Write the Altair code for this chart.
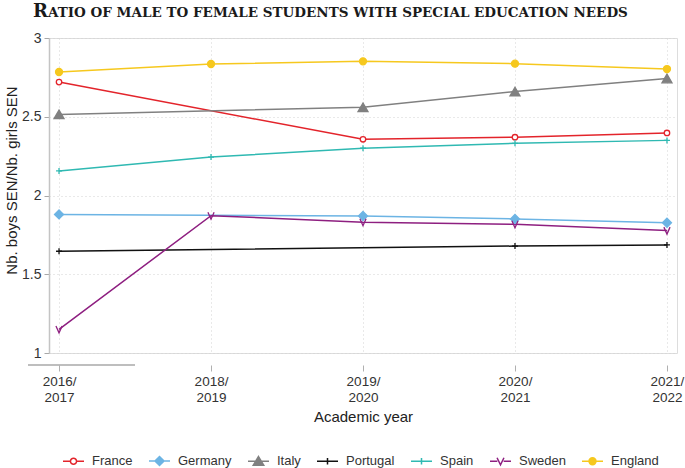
import altair as alt
import pandas as pd

# Academic years shown on the x axis (2017/2018 is not reported)
years = ["2016/2017", "2018/2019", "2019/2020", "2020/2021", "2021/2022"]
countries = ["France", "Germany", "Italy", "Portugal", "Spain", "Sweden", "England"]

# Ratio of boys to girls with special education needs; None = not reported
france = [2.72, None, 2.357, 2.37, 2.397]
germany = [1.88, None, 1.87, 1.851, 1.827]
italy = [2.515, None, 2.56, 2.66, 2.743]
portugal = [1.646, None, None, 1.679, 1.686]
spain = [2.156, 2.244, 2.30, 2.331, 2.35]
sweden = [1.15, 1.872, 1.83, 1.817, 1.777]
england = [2.784, 2.835, 2.852, 2.837, 2.803]

series = [france, germany, italy, portugal, spain, sweden, england]

colors = ["#e3242b", "#6cb4e4", "#808080", "#111111", "#2fb9b2", "#8e1f80", "#f6c81e"]
point_fills = ["#ffffff", "#6cb4e4", "#808080", "transparent", "transparent", "transparent", "#f6c81e"]

PLUS = "M-1,0H1M0,-1V1"
VEE = "M-0.8,-0.9L0,0.9L0.8,-0.9"
point_shapes = ["circle", "diamond", "triangle-up", PLUS, PLUS, VEE, "circle"]
point_sizes = [30, 81, 100, 36, 36, 60, 49]

# Legend keys: a short line segment with the series marker on it
legend_shapes = [
    "M-1,0H-0.29M0.29,0H1M-0.29,0A0.29,0.29 0 1,0 0.29,0A0.29,0.29 0 1,0 -0.29,0Z",
    "M-1,0H1M0,-0.43L0.43,0L0,0.43L-0.43,0Z",
    "M-1,0H1M0,-0.45L0.5,0.38L-0.5,0.38Z",
    "M-1,0H1M0,-0.3V0.3",
    "M-1,0H1M0,-0.3V0.3",
    "M-1,0H-0.3M0.3,0H1M-0.33,-0.33L0,0.33L0.33,-0.33",
    "M-1,0H1M-0.33,0A0.33,0.33 0 1,0 0.33,0A0.33,0.33 0 1,0 -0.33,0Z",
]

rows = []
for country, values in zip(countries, series):
    for year, v in zip(years, values):
        if v is not None:
            rows.append({"country": country, "year": year, "ratio": v})
df = pd.DataFrame(rows)

FONT = "Liberation Sans"
GRID = "#d2d2d2"

x_enc = alt.X(
    "year:N",
    sort=years,
    scale=alt.Scale(type="point", domain=years, padding=0.066),
    axis=alt.Axis(
        title="Academic year",
        offset=12,
        domain=False,
        grid=True,
        gridDash=[1, 3],
        gridColor=GRID,
        tickSize=6,
        tickColor="#b0b0b0",
        labelAngle=0,
        labelExpr="[split(datum.label, '/')[0] + '/', split(datum.label, '/')[1]]",
        labelFont=FONT,
        labelFontSize=13.5,
        labelColor="#333333",
        labelLineHeight=16,
        labelPadding=3,
        titleFont=FONT,
        titleFontSize=15,
        titleFontWeight="normal",
        titleColor="#222222",
        titlePadding=6,
    ),
)
y_enc = alt.Y(
    "ratio:Q",
    scale=alt.Scale(domain=[1, 3], nice=False, zero=False),
    axis=alt.Axis(
        title="Nb. boys SEN/Nb. girls SEN",
        values=[1, 1.5, 2, 2.5, 3],
        format="~g",
        grid=True,
        gridDash=[1, 3],
        gridColor=GRID,
        domainColor="#c4c4c4",
        domainWidth=1.5,
        tickColor="#a8a8a8",
        tickSize=5,
        labelFont=FONT,
        labelFontSize=14,
        labelColor="#333333",
        labelPadding=3,
        titleFont=FONT,
        titleFontSize=15,
        titleFontWeight="normal",
        titleColor="#222222",
        titlePadding=2,
        titleY=142,
    ),
)

lines = alt.Chart(df).mark_line(strokeWidth=1.5).encode(
    x=x_enc,
    y=y_enc,
    color=alt.Color("country:N", scale=alt.Scale(domain=countries, range=colors), legend=None),
)

points = alt.Chart(df).mark_point(strokeWidth=1.3, opacity=1).encode(
    x=x_enc,
    y=y_enc,
    shape=alt.Shape("country:N", scale=alt.Scale(domain=countries, range=point_shapes), legend=None),
    stroke=alt.Stroke("country:N", scale=alt.Scale(domain=countries, range=colors), legend=None),
    fill=alt.Fill("country:N", scale=alt.Scale(domain=countries, range=point_fills), legend=None),
    size=alt.Size("country:N", scale=alt.Scale(type="ordinal", domain=countries, range=point_sizes), legend=None),
)

legend_def = alt.Legend(
    title=None,
    orient="none",
    legendX=13,
    legendY=411,
    direction="horizontal",
    columns=7,
    columnPadding=13,
    labelOffset=7,
    labelFont=FONT,
    labelFontSize=13,
    labelColor="#333333",
    symbolSize=441,
    symbolStrokeWidth=1.5,
)

legend_layer = alt.Chart(df).transform_filter("false").mark_point(strokeWidth=1.5, opacity=1).encode(
    x=x_enc,
    y=y_enc,
    shape=alt.Shape("country:N", scale=alt.Scale(domain=countries, range=legend_shapes), legend=legend_def),
    stroke=alt.Stroke("country:N", scale=alt.Scale(domain=countries, range=colors), legend=legend_def),
    fill=alt.Fill("country:N", scale=alt.Scale(domain=countries, range=point_fills), legend=legend_def),
)

# Short baseline segment under the first year
baseline = alt.Chart(alt.Data(values=[{}])).mark_rule(color="#a8a8a8", strokeWidth=1.5).encode(
    x=alt.value(-21), x2=alt.value(86), y=alt.value(327)
)

# Small-caps style heading: large initial followed by smaller capitals
title_initial = alt.Chart(alt.Data(values=[{}])).mark_text(
    text="R", font="DejaVu Serif", fontSize=18, fontWeight="bold", align="left",
    baseline="alphabetic", color="#1a1a1a",
).encode(x=alt.value(-16), y=alt.value(-21))
title_rest = alt.Chart(alt.Data(values=[{}])).mark_text(
    text="ATIO OF MALE TO FEMALE STUDENTS WITH SPECIAL EDUCATION NEEDS", font="DejaVu Serif",
    fontSize=13.5, fontWeight="bold", align="left", baseline="alphabetic", color="#1a1a1a",
).encode(x=alt.value(-1), y=alt.value(-21))

chart = alt.layer(
    lines, points, legend_layer, baseline, title_initial, title_rest
).resolve_scale(
    shape="independent", stroke="independent", fill="independent", size="independent"
).properties(
    width=628,
    height=315,
    autosize=alt.AutoSizeParams(type="none"),
    padding={"left": 49, "top": 38, "right": 8, "bottom": 115},
).configure_view(stroke=None).configure(background="white")

chart.save("out.html", embed_options={"renderer": "svg", "actions": False})
